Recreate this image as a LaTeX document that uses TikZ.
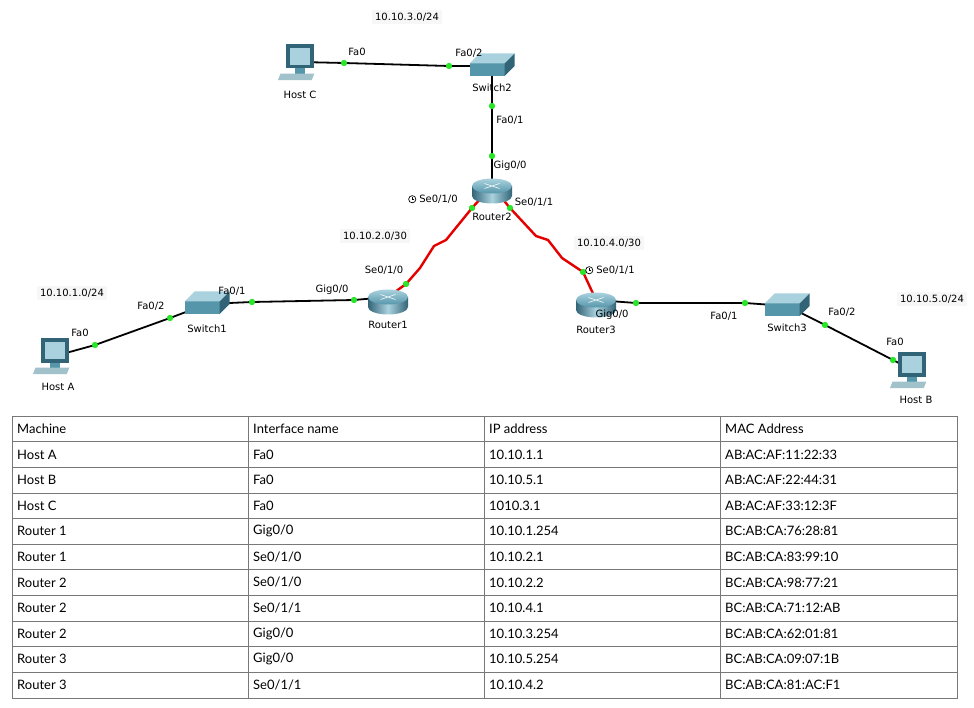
\documentclass[tikz,border=0pt]{standalone}
\usepackage{fontspec}
\setmainfont{Lato}
\newfontfamily\pt{DejaVu Sans}
\usetikzlibrary{calc}
\definecolor{dev}{RGB}{86,150,170}
\definecolor{devd}{RGB}{50,100,120}
\definecolor{devl}{RGB}{170,210,222}
\definecolor{port}{RGB}{40,230,40}
\definecolor{grid}{RGB}{120,120,120}
\tikzset{
  lbl/.style={font=\pt\fontsize{10}{11}\selectfont, inner sep=1pt},
  net/.style={font=\pt\fontsize{10}{11}\selectfont, fill=gray!6, inner sep=3pt},
  eth/.style={line width=1.8pt, black},
  ser/.style={line width=2.4pt, red!90!black},
  dot/.style={circle, fill=port, inner sep=0pt, minimum size=6pt},
  cell/.style={font=\fontsize{13}{14}\selectfont, anchor=west, inner sep=0pt},
}
\newcommand{\clk}{\tikz[baseline=-3pt,x=1pt,y=1pt]{\draw[line width=0.7pt] (0,0) circle (3.6); \draw[line width=0.6pt] (0,2.3) -- (0,0) -- (2,0);}}
\newcommand{\rtr}[1]{\begin{scope}[shift={(#1)}, scale=1.25]
  \shade[left color=devd, right color=devd, middle color=devl] (-16,0) -- (-16,8) arc[start angle=180,end angle=360,x radius=16,y radius=-6] -- (16,0) -- cycle;
  \shade[top color=devl, bottom color=dev] (0,0) ellipse[x radius=16, y radius=6];
  \draw[white, line width=0.6pt] (-6,-2) -- (6,2) (-6,2) -- (6,-2);
  \end{scope}}
\newcommand{\swt}[1]{\begin{scope}[shift={(#1)}, scale=1.25]
  \fill[dev] (-18,-2) rectangle (10,8);
  \fill[devl] (-18,-2) -- (-10,-10) -- (18,-10) -- (10,-2) -- cycle;
  \fill[devd] (10,-2) -- (18,-10) -- (18,0) -- (10,8) -- cycle;
  \end{scope}}
\newcommand{\pc}[1]{\begin{scope}[shift={(#1)}, scale=1.3]
  \fill[devd] (-11,-14) rectangle (11,5);
  \fill[devl] (-8,-11) rectangle (8,2);
  \fill[dev] (-4,5) rectangle (4,9);
  \fill[devl!80!gray] (-15,9) -- (11,9) -- (9,14) -- (-17,14) -- cycle;
  \end{scope}}
\begin{document}
\begin{tikzpicture}[x=1pt,y=-1pt]
\useasboundingbox[fill=white] (0,0) rectangle (974,708);
% device positions
\coordinate (hc) at (300,62);
\coordinate (s2) at (492,66);
\coordinate (r2) at (492,186);
\coordinate (r1) at (388,297);
\coordinate (r3) at (596,300);
\coordinate (s1) at (207,304);
\coordinate (s3) at (787,306);
\coordinate (ha) at (55,356);
\coordinate (hb) at (912,370);
% port dots
\node[dot] (hc0) at (344,63) {};  \node[dot] (s22) at (449,66) {};
\node[dot] (s21) at (492,106) {}; \node[dot] (r2g) at (492,156) {};
\node[dot] (r20) at (472,208) {}; \node[dot] (r10) at (406,284) {};
\node[dot] (r21) at (510,208) {}; \node[dot] (r31) at (583,272) {};
\node[dot] (s11) at (252,302) {}; \node[dot] (r1g) at (354,300) {};
\node[dot] (ha0) at (95,345) {};  \node[dot] (s12) at (170,318) {};
\node[dot] (r3g) at (636,303) {}; \node[dot] (s31) at (745,303) {};
\node[dot] (s32) at (825,325) {}; \node[dot] (hb0) at (893,360) {};
% links
\draw[eth] (hc) -- (hc0.center) -- (s22.center) -- (s2);
\draw[eth] (s2) -- (s21.center) -- (r2g.center) -- (r2);
\draw[eth] (s1) -- (s11.center) -- (r1g.center) -- (r1);
\draw[eth] (ha) -- (ha0.center) -- (s12.center) -- (s1);
\draw[eth] (r3) -- (r3g.center) -- (s31.center) -- (s3);
\draw[eth] (s3) -- (s32.center) -- (hb0.center) -- (hb);
\draw[ser] (r2) -- (r20.center) -- (446,240) -- (434,246) -- (420,268) -- (r10.center) -- (r1);
\draw[ser] (r2) -- (r21.center) -- (536,236) -- (548,240) -- (562,258) -- (r31.center) -- (r3);
% devices
\pc{hc} \pc{ha} \pc{hb}
\swt{s2} \swt{s1} \swt{s3}
\rtr{r2} \rtr{r1} \rtr{r3}
% dots above links
\foreach \d in {hc0,s22,s21,r2g,r20,r10,r21,r31,s11,r1g,ha0,s12,r3g,s31,s32,hb0}
  \fill[port] (\d) circle (3);
% device names
\node[lbl] (nhc) at (300,95) {Host C};
\node[lbl] (ns2) at (492,88) {Switch2};
\node[lbl] (nr2) at (492,217) {Router2};
\node[lbl] (nr1) at (388,325) {Router1};
\node[lbl] (nr3) at (596,330) {Router3};
\node[lbl] (ns1) at (207,329) {Switch1};
\node[lbl] (ns3) at (787,328) {Switch3};
\node[lbl] (nha) at (58,387) {Host A};
\node[lbl] (nhb) at (916,400) {Host B};
% subnets
\node[net] (n3) at (407,17) {10.10.3.0/24};
\node[net] (n2) at (375,236) {10.10.2.0/30};
\node[net] (n4) at (609,243) {10.10.4.0/30};
\node[net] (n1) at (72,293) {10.10.1.0/24};
\node[net] (n5) at (932,299) {10.10.5.0/24};
% interface labels
\node[lbl] (l1) at (357,52) {Fa0};
\node[lbl] (l2) at (469,53) {Fa0/2};
\node[lbl] (l3) at (510,120) {Fa0/1};
\node[lbl] (l4) at (510,166) {Gig0/0};
\node[lbl] (l5) at (433,199) {\clk\ Se0/1/0};
\node[lbl] (l6) at (384,270) {Se0/1/0};
\node[lbl] (l7) at (534,202) {Se0/1/1};
\node[lbl] (l8) at (610,270) {\clk\ Se0/1/1};
\node[lbl] (l9) at (232,291) {Fa0/1};
\node[lbl] (l10) at (332,290) {Gig0/0};
\node[lbl] (l11) at (80,333) {Fa0};
\node[lbl] (l12) at (151,306) {Fa0/2};
\node[lbl] (l13) at (612,315) {Gig0/0};
\node[lbl] (l14) at (724,316) {Fa0/1};
\node[lbl] (l15) at (842,312) {Fa0/2};
\node[lbl] (l16) at (895,342) {Fa0};
% table
\def\rh{25.6}
\draw[grid, line width=0.6pt] (12,416) rectangle (957,698);
\foreach \i in {1,...,10} \draw[grid, line width=0.6pt] (12,416+\i*\rh) -- (957,416+\i*\rh);
\foreach \x in {248,484,720} \draw[grid, line width=0.6pt] (\x,416) -- (\x,698);
\foreach [count=\i from 0] \a/\b/\c/\d in {
  Machine/Interface name/IP address/MAC Address,
  Host A/Fa0/10.10.1.1/AB:AC:AF:11:22:33,
  Host B/Fa0/10.10.5.1/AB:AC:AF:22:44:31,
  Host C/Fa0/1010.3.1/AB:AC:AF:33:12:3F,
  Router 1/Gig0\slash 0/10.10.1.254/BC:AB:CA:76:28:81,
  Router 1/Se0\slash 1\slash 0/10.10.2.1/BC:AB:CA:83:99:10,
  Router 2/Se0\slash 1\slash 0/10.10.2.2/BC:AB:CA:98:77:21,
  Router 2/Se0\slash 1\slash 1/10.10.4.1/BC:AB:CA:71:12:AB,
  Router 2/Gig0\slash 0/10.10.3.254/BC:AB:CA:62:01:81,
  Router 3/Gig0\slash 0/10.10.5.254/BC:AB:CA:09:07:1B,
  Router 3/Se0\slash 1\slash 1/10.10.4.2/BC:AB:CA:81:AC:F1} {
  \node[cell] (ta\i) at (17,416+\i*\rh+\rh/2) {\a};
  \node[cell] (tb\i) at (253,416+\i*\rh+\rh/2) {\b};
  \node[cell] (tc\i) at (489,416+\i*\rh+\rh/2) {\c};
  \node[cell] (td\i) at (725,416+\i*\rh+\rh/2) {\d};
}
\end{tikzpicture}
\end{document}
